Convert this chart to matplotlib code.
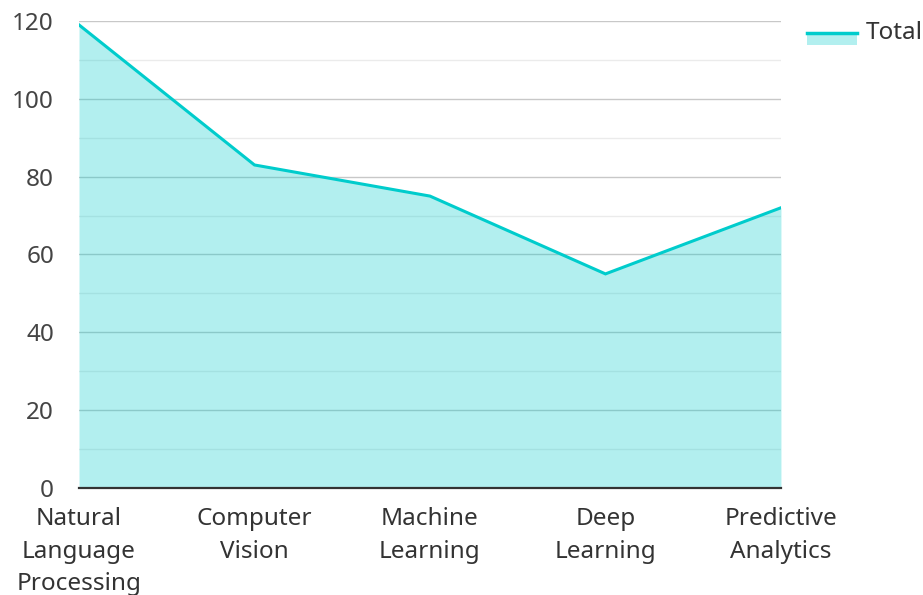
import matplotlib
matplotlib.use("Agg")
import matplotlib.pyplot as plt
from matplotlib.patches import Rectangle
from matplotlib.lines import Line2D
from matplotlib.ticker import MultipleLocator

# Data
categories = ["Natural\nLanguage\nProcessing", "Computer\nVision", "Machine\nLearning",
              "Deep\nLearning", "Predictive\nAnalytics"]
totals = [119, 83, 75, 55, 72]

line_color = "#00CCCC"
plt.rcParams["font.family"] = ["Noto Sans", "DejaVu Sans"]

fig = plt.figure(figsize=(9.23, 5.95), dpi=100)
ax = fig.add_axes([0.0856, 0.18, 0.7605, 0.7847])

x = list(range(len(categories)))
ax.fill_between(x, 0, totals, color=line_color, alpha=0.3, lw=0, zorder=2)
ax.plot(x, totals, color=line_color, lw=2.2, zorder=3, solid_joinstyle="miter")

ax.set_xlim(0, len(categories) - 1)
ax.set_ylim(0, 120)
ax.yaxis.set_major_locator(MultipleLocator(20))
ax.yaxis.set_minor_locator(MultipleLocator(10))
ax.grid(axis="y", which="major", color="#c8c8c8", lw=1.0, zorder=1)
ax.grid(axis="y", which="minor", color="#ebebeb", lw=1.0, zorder=1)
ax.set_axisbelow(True)

ax.set_xticks(x)
ax.set_xticklabels(categories, fontsize=17.5, color="#333333", linespacing=1.46)
ax.tick_params(axis="y", which="both", length=0, labelsize=17.5, labelcolor="#444444", pad=18)
ax.tick_params(axis="x", length=0, pad=14)

for s in ["left", "right", "top"]:
    ax.spines[s].set_visible(False)
ax.spines["bottom"].set_color("#333333")
ax.spines["bottom"].set_linewidth(1.6)
ax.spines["bottom"].set_zorder(4)

# Legend
fig.add_artist(Rectangle((807 / 923, 1 - 45 / 595), 50 / 923, 12 / 595,
                         transform=fig.transFigure, color=line_color, alpha=0.3, lw=0))
fig.add_artist(Line2D([807 / 923, 857 / 923], [1 - 33 / 595, 1 - 33 / 595],
                      transform=fig.transFigure, color=line_color, lw=2.5))
fig.text(866 / 923, 1 - 33 / 595, "Total", fontsize=17.5, color="#333333",
         va="center", ha="left")

fig.savefig("out.png", dpi=100)
